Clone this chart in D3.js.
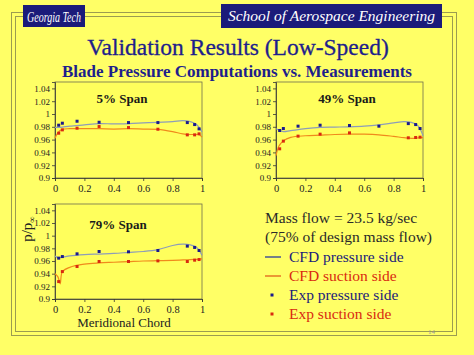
<!DOCTYPE html>
<html><head><meta charset="utf-8">
<script src="https://cdn.jsdelivr.net/npm/d3@7"></script>
<style>
html,body{margin:0;padding:0;background:#FFFF66;}
svg{display:block;}
</style></head>
<body>
<svg id="c" width="474" height="355"></svg>
<script>
// ---------- data ----------
const spanTitles = ["5% Span", "49% Span", "79% Span"];
const yTicks = [0.9, 0.92, 0.94, 0.96, 0.98, 1, 1.02, 1.04];
const yTickLabels = ["0.9", "0.92", "0.94", "0.96", "0.98", "1", "1.02", "1.04"];
const xTicks = [0, 0.2, 0.4, 0.6, 0.8, 1];
const xTickLabels = ["0", "0.2", "0.4", "0.6", "0.8", "1"];
const expX = [0.025, 0.05, 0.15, 0.3, 0.5, 0.7, 0.9, 0.95, 0.98];

const exp5Pressure = [0.9825, 0.9856, 0.9887, 0.9871, 0.9866, 0.9866, 0.9866, 0.9835, 0.9768];
const exp5Suction  = [0.970, 0.9752, 0.9778, 0.9804, 0.9788, 0.9762, 0.9674, 0.9674, 0.969];
const exp49Pressure = [0.9742, 0.9773, 0.981, 0.9825, 0.982, 0.981, 0.985, 0.9835, 0.9773];
const exp49Suction  = [0.9456, 0.9576, 0.9654, 0.9685, 0.9705, null, 0.9628, 0.9633, 0.9638];
const exp79Pressure = [0.9645, 0.967, 0.9713, 0.975, 0.9745, 0.9766, 0.9835, 0.9814, 0.9766];
const exp79Suction  = [0.9275, 0.9433, 0.9513, 0.9592, 0.9592, 0.9602, 0.9592, 0.9613, 0.9623];

const cfdX = [0, 0.02, 0.05, 0.1, 0.2, 0.3, 0.4, 0.5, 0.6, 0.7, 0.8, 0.87, 0.92, 0.96, 0.98, 1];
const cfd5Pressure  = [0.979, 0.979, 0.9795, 0.981, 0.983, 0.985, 0.9845, 0.985, 0.986, 0.987, 0.988, 0.9895, 0.988, 0.984, 0.979, 0.972];
const cfd5Suction   = [0.962, 0.971, 0.976, 0.977, 0.977, 0.977, 0.9765, 0.977, 0.9765, 0.976, 0.9725, 0.969, 0.968, 0.968, 0.968, 0.964];
const cfd49Pressure = [0.977, 0.975, 0.9725, 0.974, 0.977, 0.979, 0.9795, 0.980, 0.981, 0.983, 0.986, 0.988, 0.987, 0.983, 0.977, 0.966];
const cfd49Suction  = [0.935, 0.950, 0.958, 0.9635, 0.966, 0.967, 0.968, 0.9685, 0.9685, 0.9675, 0.965, 0.963, 0.962, 0.9625, 0.963, 0.963];
const cfd79Pressure = [0.968, 0.9655, 0.966, 0.968, 0.970, 0.971, 0.972, 0.9735, 0.975, 0.978, 0.9845, 0.9865, 0.9855, 0.982, 0.977, 0.969];
const cfd79SuctionX = [0, 0.02, 0.035, 0.05, 0.1, 0.2, 0.3, 0.4, 0.5, 0.6, 0.7, 0.8, 0.9, 0.95, 1];
const cfd79Suction  = [0.940, 0.935, 0.924, 0.943, 0.950, 0.955, 0.957, 0.958, 0.959, 0.960, 0.9605, 0.961, 0.962, 0.9625, 0.9635];

const legendLines = ["Mass flow = 23.5 kg/sec", "(75% of design mass flow)", "CFD pressure side", "CFD suction side", "Exp pressure side", "Exp suction side"];

// ---------- drawing ----------
const svg = d3.select("#c");
const SERIF = "Liberation Serif, DejaVu Serif, serif";
const NAVY = "#1B1B7A", TITLE = "#1E1E8C", RED = "#D92A10", BLUEMK = "#1A1A8C";
const PLINE = "#8E9DB8", SLINE = "#F08A1C";

svg.append("rect").attr("width", 474).attr("height", 355).attr("fill", "#FFFF66");

// slide frame (double line)
const frame = svg.append("g").attr("fill", "none").attr("stroke", "#9C9C50").attr("stroke-width", 1);
frame.append("rect").attr("x", 11.5).attr("y", 12.5).attr("width", 445).attr("height", 323);
frame.append("rect").attr("x", 15.5).attr("y", 16.5).attr("width", 437).attr("height", 315);

// header boxes
svg.append("rect").attr("x", 23).attr("y", 5).attr("width", 62).attr("height", 22).attr("fill", NAVY);
svg.append("text").attr("x", 27).attr("y", 21.5).attr("fill", "#fff")
  .attr("font-family", SERIF).attr("font-style", "italic").attr("font-size", 15)
  .attr("textLength", 54).attr("lengthAdjust", "spacingAndGlyphs").text("Georgia Tech");
svg.append("rect").attr("x", 221).attr("y", 4).attr("width", 221).attr("height", 24).attr("fill", NAVY);
svg.append("text").attr("x", 331.5).attr("y", 21).attr("text-anchor", "middle").attr("fill", "#fff")
  .attr("font-family", SERIF).attr("font-style", "italic").attr("font-size", 15.5)
  .text("School of Aerospace Engineering");

// titles
svg.append("text").attr("x", 238).attr("y", 55).attr("text-anchor", "middle").attr("fill", TITLE)
  .attr("font-family", SERIF).attr("font-size", 23.5).attr("stroke", TITLE).attr("stroke-width", 0.3)
  .text("Validation Results (Low-Speed)");
svg.append("text").attr("x", 237).attr("y", 76.5).attr("text-anchor", "middle").attr("fill", TITLE)
  .attr("font-family", SERIF).attr("font-weight", "bold").attr("font-size", 17).text("Blade Pressure Computations vs. Measurements");

const panels = [
  {x0: 55, x1: 202, top: 82, bot: 178, title: spanTitles[0], tx: 122, ty: 103,
   ep: exp5Pressure, es: exp5Suction, cp: [cfdX, cfd5Pressure], cs: [cfdX, cfd5Suction]},
  {x0: 276, x1: 423, top: 82, bot: 178, title: spanTitles[1], tx: 347, ty: 103,
   ep: exp49Pressure, es: exp49Suction, cp: [cfdX, cfd49Pressure], cs: [cfdX, cfd49Suction]},
  {x0: 55, x1: 202, top: 204, bot: 299, title: spanTitles[2], tx: 118, ty: 229,
   ep: exp79Pressure, es: exp79Suction, cp: [cfdX, cfd79Pressure], cs: [cfd79SuctionX, cfd79Suction]}
];

panels.forEach(p => {
  const x = d3.scaleLinear().domain([0, 1]).range([p.x0, p.x1]);
  const y = d3.scaleLinear().domain([0.9, 1.05]).range([p.bot, p.top]);
  const g = svg.append("g");
  g.append("rect").attr("x", p.x0).attr("y", p.top).attr("width", p.x1 - p.x0).attr("height", p.bot - p.top)
    .attr("fill", "#FFFF5C").attr("stroke", "#6E6E50").attr("stroke-width", 0.8);

  const yAxis = d3.axisLeft(y).tickValues(yTicks).tickSize(3).tickPadding(2)
    .tickFormat((d, i) => yTickLabels[i]);
  const ya = g.append("g").attr("transform", `translate(${p.x0},0)`).call(yAxis);
  const xAxis = d3.axisBottom(x).tickValues(xTicks).tickSize(3).tickPadding(4)
    .tickFormat((d, i) => xTickLabels[i]);
  const xa = g.append("g").attr("transform", `translate(0,${p.bot})`).call(xAxis);
  [ya, xa].forEach(a => {
    a.selectAll("path.domain").attr("stroke", "#333").attr("stroke-width", 0.8);
    a.selectAll("line").attr("stroke", "#333").attr("stroke-width", 0.8);
    a.selectAll("text").attr("font-family", SERIF).attr("font-size", 9).attr("fill", "#222");
  });
  xa.selectAll("text").attr("font-size", 10.5);

  const line = d3.line().x(d => x(d[0])).y(d => y(d[1])).curve(d3.curveCatmullRom.alpha(0.5));
  const cpData = p.cp[0].map((v, i) => [v, p.cp[1][i]]);
  const csData = p.cs[0].map((v, i) => [v, p.cs[1][i]]);
  g.append("path").attr("d", line(cpData)).attr("fill", "none").attr("stroke", PLINE).attr("stroke-width", 1.2);
  g.append("path").attr("d", line(csData)).attr("fill", "none").attr("stroke", SLINE).attr("stroke-width", 1.2);

  const mk = (vals, color) => g.append("g").selectAll("rect")
    .data(expX.map((v, i) => [v, vals[i]]).filter(d => d[1] != null)).join("rect")
    .attr("x", d => x(d[0]) - 1.5).attr("y", d => y(d[1]) - 1.5)
    .attr("width", 3).attr("height", 3).attr("fill", color);
  mk(p.ep, BLUEMK);
  mk(p.es, RED);

  g.append("text").attr("x", p.tx).attr("y", p.ty).attr("text-anchor", "middle")
    .attr("font-family", SERIF).attr("font-weight", "bold").attr("font-size", 13).attr("fill", "#1a1a1a")
    .text(p.title);
});

// axis titles
svg.append("text").attr("transform", "translate(32,229) rotate(-90)").attr("text-anchor", "middle")
  .attr("font-family", SERIF).attr("font-size", 15).attr("fill", "#222")
  .html('p/p<tspan font-size="9" dy="3">\u221E</tspan>');
svg.append("text").attr("x", 124).attr("y", 327).attr("text-anchor", "middle")
  .attr("font-family", SERIF).attr("font-size", 13).attr("fill", "#222").text("Meridional Chord");

// legend
const lg = svg.append("g").attr("font-family", SERIF).attr("font-size", 15.5);
const ly = [223, 242, 262, 281, 300, 319];
lg.append("text").attr("x", 265).attr("y", ly[0]).attr("fill", "#2a2a2a").text(legendLines[0]);
lg.append("text").attr("x", 265).attr("y", ly[1]).attr("fill", "#2a2a2a").text(legendLines[1]);
const legItems = [
  {t: legendLines[2], c: NAVY, type: "line", lc: "#2A3C9A"},
  {t: legendLines[3], c: RED, type: "line", lc: "#E0601A"},
  {t: legendLines[4], c: NAVY, type: "mark", lc: BLUEMK},
  {t: legendLines[5], c: RED, type: "mark", lc: RED}
];
legItems.forEach((d, i) => {
  const yy = ly[i + 2];
  if (d.type === "line") {
    lg.append("line").attr("x1", 265).attr("x2", 281).attr("y1", yy - 5).attr("y2", yy - 5)
      .attr("stroke", d.lc).attr("stroke-width", 1.3);
  } else {
    lg.append("rect").attr("x", 270.5).attr("y", yy - 6.5).attr("width", 3).attr("height", 3).attr("fill", d.lc);
  }
  lg.append("text").attr("x", 289).attr("y", yy).attr("fill", d.c).text(d.t);
});

svg.append("text").attr("x", 428).attr("y", 334).attr("font-family", SERIF).attr("font-size", 7)
  .attr("fill", "#999").text("14");
</script>
</body></html>
